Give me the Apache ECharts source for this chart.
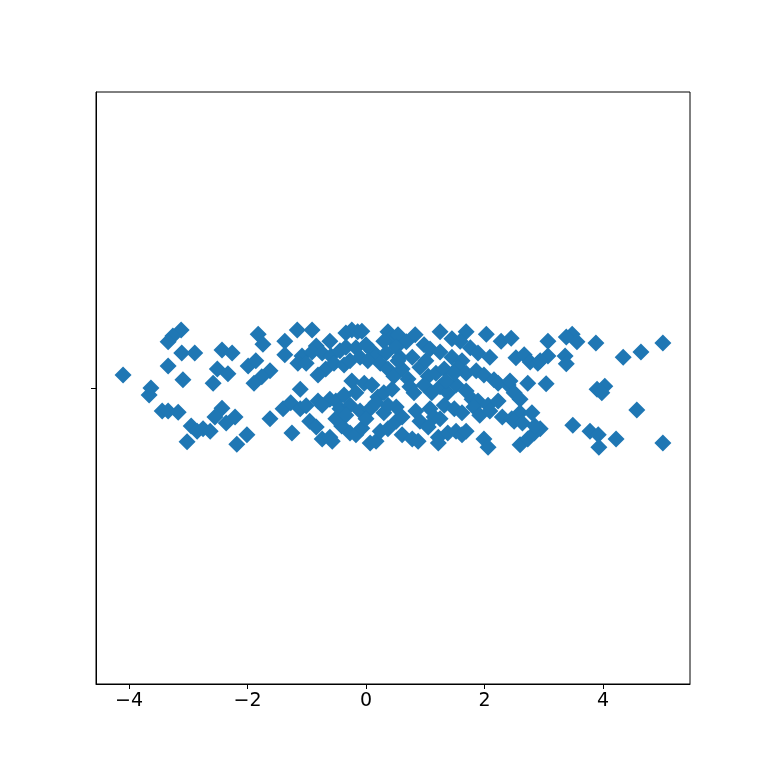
<!DOCTYPE html>
<html>
<head>
<meta charset="utf-8">
<script src="https://cdn.jsdelivr.net/npm/echarts@6/dist/echarts.min.js"></script>
<style>
html,body{margin:0;padding:0;background:#fff;}
#chart{width:768px;height:768px;}
</style>
</head>
<body>
<div id="chart"></div>
<script>
// x values of each point
const xValues = [
-4.10,-3.12,-3.26,-3.34,-3.11,-2.89,-3.34,-3.09,-3.63,-3.66,
-3.44,-3.34,-3.17,-2.95,-2.85,-3.02,-2.75,-2.63,-2.58,-2.43,
-2.26,-2.51,-2.33,-2.43,-2.55,-2.21,-2.36,-2.01,-2.18,-1.82,
-1.74,-1.99,-1.86,-1.62,-1.76,-1.89,-1.62,-1.37,-1.16,-1.37,
-1.40,-1.27,-1.25,-1.11,-1.11,-0.91,-1.08,-1.15,-1.01,
-0.61,-0.34,-0.24,-0.14,-0.07,0.37,0.41,0.54,0.30,0.68,
0.83,1.25,1.45,1.69,1.59,2.03,2.28,2.45,
-0.84,-0.91,-0.74,-0.59,-0.44,-0.34,-0.17,0.00,0.10,0.17,
0.34,0.51,0.57,0.98,1.08,1.25,1.45,1.62,1.76,1.89,
2.09,2.53,2.67,2.77,2.90,3.07,2.94,
-0.68,-0.54,-0.37,-0.27,-0.10,0.03,0.24,0.37,0.47,0.61,
0.71,0.91,1.05,1.18,1.32,1.55,1.69,1.86,1.99,2.16,
2.23,2.40,2.43,2.73,3.04,
-0.81,-0.61,-0.51,-0.37,-0.24,-0.03,0.10,0.20,0.30,0.44,
0.74,0.81,0.98,1.11,1.25,1.38,1.52,1.69,1.79,1.89,
2.06,2.23,2.50,2.60,
-1.01,-0.74,-0.44,-0.27,-0.10,0.07,0.17,0.30,0.51,0.61,
0.84,0.91,1.08,1.32,1.49,1.62,1.82,1.92,2.09,2.30,
2.46,2.60,2.80,
-0.95,-0.84,-0.74,-0.61,-0.57,-0.41,-0.27,-0.17,-0.07,0.07,
0.17,0.24,0.37,0.61,0.78,0.88,1.05,1.22,1.22,1.38,
1.52,1.62,1.69,1.99,2.06,2.60,2.73,2.84,2.94,2.50,
3.48,3.38,3.56,3.88,3.36,3.38,4.34,4.64,5.01,3.90,
4.03,3.98,4.57,3.49,3.78,3.92,3.93,4.22,5.01,3.07,
2.64,2.85,
-0.51,-0.34,-0.17,0.54,0.78,1.01,1.35,1.15,0.51,0.00,
1.49,1.25,-0.81,0.37
];
// jitter offsets within the single category band (positive = up)
const jitterValues = [
0.022,0.098,0.088,0.078,0.059,0.059,0.037,0.014,0.000,-0.012,
-0.039,-0.039,-0.041,-0.064,-0.073,-0.091,-0.069,-0.073,0.008,0.064,
0.059,0.032,0.024,-0.034,-0.049,-0.049,-0.059,-0.079,-0.095,0.091,
0.074,0.037,0.046,0.029,0.019,0.008,-0.052,0.079,0.098,0.056,
-0.035,-0.025,-0.076,-0.002,-0.035,0.098,0.054,0.042,0.042,
0.079,0.093,0.098,0.095,0.096,0.095,0.083,0.090,0.079,0.078,
0.090,0.095,0.083,0.095,0.079,0.091,0.079,0.084,
0.071,0.061,0.059,0.054,0.063,0.069,0.068,0.073,0.063,0.054,
0.059,0.069,0.052,0.073,0.066,0.061,0.052,0.046,0.068,0.059,
0.052,0.051,0.056,0.044,0.042,0.054,0.046,
0.032,0.042,0.039,0.046,0.052,0.046,0.042,0.032,0.020,0.032,
0.015,0.035,0.020,0.025,0.032,0.034,0.025,0.029,0.022,0.014,
0.008,0.005,0.012,0.008,0.007,
-0.022,-0.019,-0.022,-0.012,0.012,0.008,0.005,-0.015,-0.008,-0.002,
0.002,-0.008,0.005,-0.008,0.002,-0.008,0.005,-0.005,-0.019,-0.022,
-0.029,-0.022,-0.008,-0.019,
-0.030,-0.029,-0.035,-0.029,-0.039,-0.035,-0.025,-0.042,-0.056,-0.049,
-0.039,-0.056,-0.035,-0.029,-0.035,-0.042,-0.032,-0.046,-0.039,-0.049,
-0.052,-0.042,-0.042,
-0.056,-0.066,-0.086,-0.083,-0.090,-0.064,-0.076,-0.079,-0.068,-0.093,
-0.090,-0.073,-0.069,-0.079,-0.086,-0.090,-0.066,-0.083,-0.093,-0.076,
-0.073,-0.079,-0.073,-0.086,-0.100,-0.096,-0.086,-0.076,-0.069,-0.056,
0.091,0.086,0.078,0.076,0.054,0.041,0.052,0.061,0.076,-0.002,
0.003,-0.008,-0.037,-0.063,-0.073,-0.079,-0.100,-0.086,-0.093,0.079,
-0.059,-0.064,
-0.052,-0.046,-0.008,0.046,0.052,0.046,0.012,-0.049,-0.032,-0.052,
0.025,-0.052,0.022,-0.029
];
const xTickValues = [-4, -2, 0, 2, 4];
const yTickValues = [0];

const points = xValues.map((x, i) => [x, jitterValues[i]]);

const chart = echarts.init(document.getElementById('chart'), null, {renderer: 'canvas'});
chart.setOption({
  animation: false,
  backgroundColor: '#ffffff',
  grid: {left: 96, top: 92, width: 594, height: 592, show: true, borderColor: '#000', borderWidth: 1, backgroundColor: 'transparent'},
  xAxis: {
    type: 'value', min: -4.557, max: 5.468,
    splitLine: {show: false},
    axisLine: {show: true, onZero: false, lineStyle: {color: '#000', width: 1}},
    axisTick: {show: true, inside: false, length: 5, lineStyle: {color: '#000', width: 1}, customValues: xTickValues},
    axisLabel: {
      show: true, customValues: xTickValues, margin: 8, color: '#000',
      fontFamily: 'DejaVu Sans', fontSize: 19,
      formatter: v => (v < 0 ? '\u2212' + (-v) : String(v))
    }
  },
  yAxis: {
    type: 'value', min: -0.5, max: 0.5,
    splitLine: {show: false},
    axisLine: {show: true, onZero: false, lineStyle: {color: '#000', width: 1}},
    axisTick: {show: true, inside: false, length: 5, lineStyle: {color: '#000', width: 1}, customValues: yTickValues},
    axisLabel: {show: false}
  },
  series: [{
    type: 'scatter',
    symbol: 'diamond',
    symbolSize: 17,
    data: points,
    itemStyle: {color: '#1f77b4', opacity: 1, borderWidth: 0}
  }]
});
</script>
</body>
</html>
